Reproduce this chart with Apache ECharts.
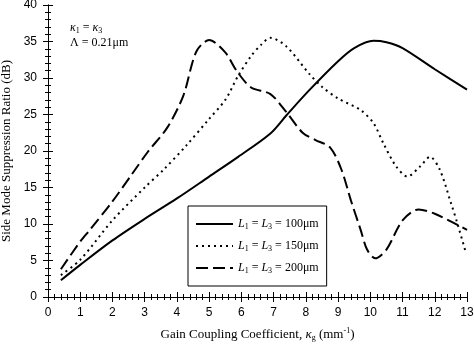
<!DOCTYPE html>
<html><head><meta charset="utf-8">
<script src="https://cdn.jsdelivr.net/npm/echarts@6/dist/echarts.min.js"></script>
<style>html,body{margin:0;padding:0;background:#fff}#c{width:474px;height:348px}</style>
</head><body><div id="c"></div>
<script>
const seriesNames = ['100', '150', '200'];
const l100 = [[0.4,2.3],[1.0,4.4],[2.0,7.75],[3.0,10.7],[4.0,13.5],[5.0,16.5],[5.9,19.2],[6.9,22.4],[7.4,24.9],[8.1,28.3],[9.0,32.3],[9.5,34.1],[10.1,35.1],[10.5,34.9],[11.0,34.1],[12.0,31.2],[13.0,28.4]];
const l150 = [[0.4,3.0],[1.0,5.1],[2.0,10.5],[3.0,15.0],[3.6,17.5],[4.3,20.8],[5.0,24.4],[5.5,27.0],[5.9,30.3],[6.3,33.0],[6.6,34.5],[6.9,35.5],[7.4,34.3],[8.1,30.6],[8.5,28.8],[9.0,27.2],[9.7,25.6],[10.1,23.8],[10.4,21.1],[10.8,17.9],[11.15,16.5],[11.55,17.9],[11.85,19.2],[12.15,17.5],[12.5,12.9],[12.7,10.1],[12.95,6.3]];
const l200 = [[0.4,3.8],[1.0,7.6],[1.3,9.2],[2.0,13.1],[2.6,16.8],[3.1,19.9],[3.7,23.2],[4.2,27.6],[4.6,33.6],[5.0,35.2],[5.5,33.5],[5.85,31.0],[6.3,28.7],[6.9,27.8],[7.4,25.3],[7.9,22.5],[8.3,21.5],[8.75,20.5],[9.1,17.5],[9.4,13.2],[9.7,9.2],[9.9,6.5],[10.15,5.3],[10.5,6.5],[11.0,10.5],[11.5,12.0],[12.0,11.4],[13.0,9.2]];
const xTicks = [0,1,2,3,4,5,6,7,8,9,10,11,12,13];
const yTicks = [0,5,10,15,20,25,30,35,40];

const chart = echarts.init(document.getElementById('c'));
const serif = 'Liberation Serif';
const sans = 'Liberation Sans';
const rich = {
  i: {fontFamily: serif, fontStyle: 'italic', fontSize: 12, color: '#000'},
  sub: {fontFamily: serif, fontSize: 8, color: '#000', padding: [6,0,0,0]},
  n: {fontFamily: serif, fontSize: 12, color: '#000'}
};
const tickCommon = {
  axisLine: {show: true, lineStyle: {color: '#000', width: 1}},
  axisTick: {show: true, inside: true, length: 5, lineStyle: {color: '#000'}},
  minorTick: {show: true, splitNumber: 5, length: -3, lineStyle: {color: '#000'}},
  splitLine: {show: false}
};
const xAx = (pos, show) => Object.assign({
  type: 'value', min: 0, max: 13, interval: 1, position: pos,
  axisLabel: {show: show, color: '#000', fontFamily: sans, fontSize: 12, margin: 10, formatter: v => xTicks.includes(v) ? String(v) : ''}
}, tickCommon);
const yAx = (pos, show) => Object.assign({
  type: 'value', min: 0, max: 40, interval: 5, position: pos,
  axisLabel: {show: show, color: '#000', fontFamily: sans, fontSize: 12, margin: 11, formatter: v => yTicks.includes(v) ? String(v) : ''}
}, tickCommon);

const xBottom = xAx('bottom', true);
xBottom.name = '{n|Gain Coupling Coefficient, }{i|κ}{sub|g}{n| (mm}{sup|-1}{n|)}';
xBottom.nameLocation = 'middle';
xBottom.nameGap = 30;
xBottom.nameTextStyle = {rich: Object.assign({}, rich, {
  n: {fontFamily: serif, fontSize: 13, color: '#000'},
  i: {fontFamily: serif, fontStyle: 'italic', fontSize: 13, color: '#000'},
  sup: {fontFamily: serif, fontSize: 8, color: '#000', padding: [0,0,8,0]}})};
const yLeft = yAx('left', true);
yLeft.name = 'Side Mode Suppression Ratio (dB)';
yLeft.nameLocation = 'middle';
yLeft.nameGap = 34;
yLeft.nameTextStyle = {fontFamily: serif, fontSize: 13, color: '#000'};

const mk = (name, data, type) => ({
  name: name, type: 'line', data: data, smooth: 0.3, symbol: 'none',
  xAxisIndex: 0, yAxisIndex: 0,
  itemStyle: {color: '#000'},
  lineStyle: {color: '#000', width: 2, type: type}
});

chart.setOption({
  animation: false,
  grid: {left: 48, right: 7, top: 5, bottom: 51, containLabel: false, outerBoundsMode: 'none'},
  xAxis: [xBottom, xAx('top', false)],
  yAxis: [yLeft, yAx('right', false)],
  legend: {
    left: 188, top: 206, orient: 'vertical', itemWidth: 37, itemHeight: 10, itemGap: 9,
    padding: [12, 8, 11, 7], borderColor: '#000', borderWidth: 1,
    data: seriesNames,
    itemStyle: {opacity: 0},
    formatter: n => '{i|L}{sub|1}{n| = }{i|L}{sub|3}{n| = ' + n + 'μm}',
    textStyle: {rich: rich}
  },
  graphic: [
    {type: 'text', left: 70, top: 22, style: {text: '{i|κ}{sub|1}{n| = }{i|κ}{sub|3}', rich: rich}},
    {type: 'text', left: 70, top: 37, style: {text: 'Λ = 0.21μm', font: '12px "Liberation Serif"', fill: '#000'}}
  ],
  series: [mk('100', l100, 'solid'), mk('150', l150, [2, 4]), mk('200', l200, [12, 5])]
});
</script></body></html>
